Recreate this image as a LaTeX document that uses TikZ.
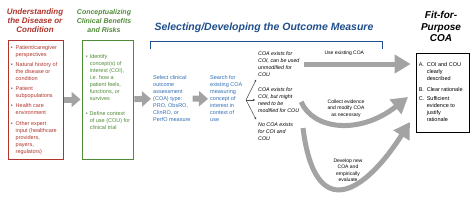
\documentclass[tikz,border=0pt]{standalone}
\usepackage{fontspec}
\setmainfont{Liberation Sans}
\usepackage{xcolor}
\usepackage{tikz}
\usetikzlibrary{arrows.meta, positioning}
\definecolor{coared}{HTML}{B0342C}
\definecolor{coagreen}{HTML}{4F8A36}
\definecolor{coablue}{HTML}{1F4E8C}
\definecolor{coatext}{HTML}{2F6DB5}
\definecolor{coagray}{HTML}{A3A3A3}
\definecolor{coadark}{HTML}{4A4A4A}
\hyphenpenalty=10000
\newcommand{\bitem}[2]{\makebox[#1][l]{\textbullet}\begin{tabular}[t]{@{}l@{}}#2\end{tabular}}
\newcommand{\litem}[2]{\makebox[8pt][l]{#1}\begin{tabular}[t]{@{}l@{}}#2\end{tabular}}
\tikzset{
  stagetitle/.style={align=center, inner sep=0pt,
    font=\bfseries\itshape\fontsize{8}{9}\selectfont},
  stagebox/.style={rectangle, draw, line width=0.9pt,
    minimum width=55pt, minimum height=119pt},
  listtext/.style={align=left, inner sep=0pt, font=\fontsize{5.5}{7}\selectfont},
  steptext/.style={align=left, inner sep=1pt, text=coatext,
    font=\fontsize{5.5}{7}\selectfont},
  casetext/.style={align=left, inner sep=1pt,
    font=\itshape\fontsize{5.3}{7.2}\selectfont},
  pathlabel/.style={align=center, inner sep=0pt, text=black,
    font=\fontsize{5}{6.5}\selectfont},
  stagear/.style={-{Triangle[length=9pt,width=15pt]}, line width=6pt, coagray},
  pathar/.style={-{Triangle[length=16pt,width=18pt]}, line width=5pt, coagray},
  fanar/.style={-{Latex[length=2.5pt,width=2.2pt]}, line width=0.5pt, coadark},
}

\begin{document}
\begin{tikzpicture}[x=10pt, y=10pt]
  \useasboundingbox (0,0) rectangle (47.4,-20.1);

  % --- Stage titles ---
  \node[stagetitle, text=coared] (distitle) at (3.5,-2.1)
        {Understanding\\the Disease or\\Condition};
  \node[stagetitle, text=coagreen, font=\bfseries\itshape\fontsize{7}{9}\selectfont]
        (contitle) at (10.4,-2.1) {Conceptualizing\\Clinical Benefits\\and Risks};
  \node[stagetitle, text=coablue, font=\bfseries\itshape\fontsize{10.5}{12}\selectfont]
        (seltitle) at (26.4,-2.8) {Selecting/Developing the Outcome Measure};
  \node[stagetitle, font=\bfseries\itshape\fontsize{10}{11.5}\selectfont]
        (fittitle) at (44.1,-2.65) {Fit-for-\\Purpose\\COA};
  \draw[coablue, line width=0.9pt] (15.0,-4.9) -- (15.0,-4.15) -- (38.2,-4.15) -- (38.2,-4.9);

  % --- Understanding the disease ---
  \node[stagebox, draw=coared] (disbox) at (3.55,-9.95) {};
  \node[listtext, text=coared, below right=4.6pt and 3pt of disbox.north west] (distext)
        {\bitem{5pt}{Patient/caregiver\\perspectives}\\[2pt]
         \bitem{5pt}{Natural history of\\the disease or\\condition}\\[2pt]
         \bitem{5pt}{Patient\\subpopulations}\\[2pt]
         \bitem{5pt}{Health care\\environment}\\[3pt]
         \bitem{5pt}{Other expert\\input (healthcare\\providers,\\payers,\\regulators)}};

  % --- Conceptualizing benefits ---
  \node[stagebox, draw=coagreen, minimum width=51pt] (conbox) at (10.75,-9.95) {};
  \node[listtext, text=coagreen, below right=13.6pt and 4pt of conbox.north west] (context)
        {\bitem{4pt}{Identify\\concept(s) of\\interest (COI),\\i.e. how a\\patient feels,\\functions, or\\survives}\\[7pt]
         \bitem{4pt}{Define context\\of use (COU) for\\clinical trial}};

  % --- Selecting / developing ---
  \node[steptext, anchor=west] (seltext) at (15.2,-9.85)
        {Select clinical\\outcome\\assessment\\(COA) type:\\PRO, ObsRO,\\ClinRO, or\\PerfO measure};
  \node[steptext, anchor=west] (srchtext) at (20.9,-9.9)
        {Search for\\existing COA\\measuring\\concept of\\interest in\\context of\\use};

  \node[casetext, anchor=west] (exist) at (25.7,-6.4)
        {COA exists for\\COI, can be used\\unmodified for\\COU};
  \node[casetext, anchor=west] (modify) at (25.7,-10.0)
        {COA exists for\\COI, but might\\need to be\\modified for COU};
  \node[casetext, anchor=west] (nocoa) at (25.7,-13.15)
        {No COA exists\\for COI and\\COU};

  \coordinate (fan) at (24.6,-10.0);
  \draw[fanar, shorten >=1.5pt] (fan) -- (exist.south west);
  \draw[fanar, shorten >=1.5pt] (fan) -- (modify.west);
  \draw[fanar, shorten >=1.5pt] (fan) -- (nocoa.north west);

  % --- Fit-for-purpose ---
  \node[stagebox, draw=black, line width=0.8pt, minimum width=53pt, minimum height=79pt]
        (fitbox) at (44.25,-9.25) {};
  \node[listtext, below right=8.6pt and 3pt of fitbox.north west] (fittext)
        {\litem{A.}{COI and COU\\clearly\\described}\\[3pt]
         \litem{B.}{Clear rationale}\\[2pt]
         \litem{C.}{Sufficient\\evidence to\\justify\\rationale}};

  % --- Stage arrows ---
  \draw[stagear, shorten <=1pt, shorten >=1pt] (disbox) -- (conbox);
  \draw[stagear, shorten <=1pt, shorten >=1pt] (conbox) -- (seltext);
  \draw[stagear, shorten <=1pt, shorten >=1pt] (seltext) -- (srchtext);

  % --- Paths to fit-for-purpose ---
  \coordinate (modend) at (40.8,-9.7);
  \coordinate (newstart) at (30.3,-12.8);
  \coordinate (newend) at (41.0,-12.2);
  \draw[pathar, shorten <=3pt, shorten >=5pt] (exist.east) --
        node[pathlabel, above=6pt, pos=0.38] (uselabel) {Use existing COA}
        (exist.east -| fitbox.west);
  \draw[pathar, shorten <=2pt] (modify.east) .. controls +(1.3,-3.0) and +(-4.8,-3.8) .. (modend);
  \draw[pathar] (newstart) .. controls +(1.2,-9.6) and +(-4.6,-7.2) .. (newend);
  \node[pathlabel] (modlabel) at (34.6,-10.85) {Collect evidence\\and modify COA\\as necessary};
  \node[pathlabel] (newlabel) at (34.8,-17.0) {Develop new\\COA and\\empirically\\evaluate};

\end{tikzpicture}
\end{document}
